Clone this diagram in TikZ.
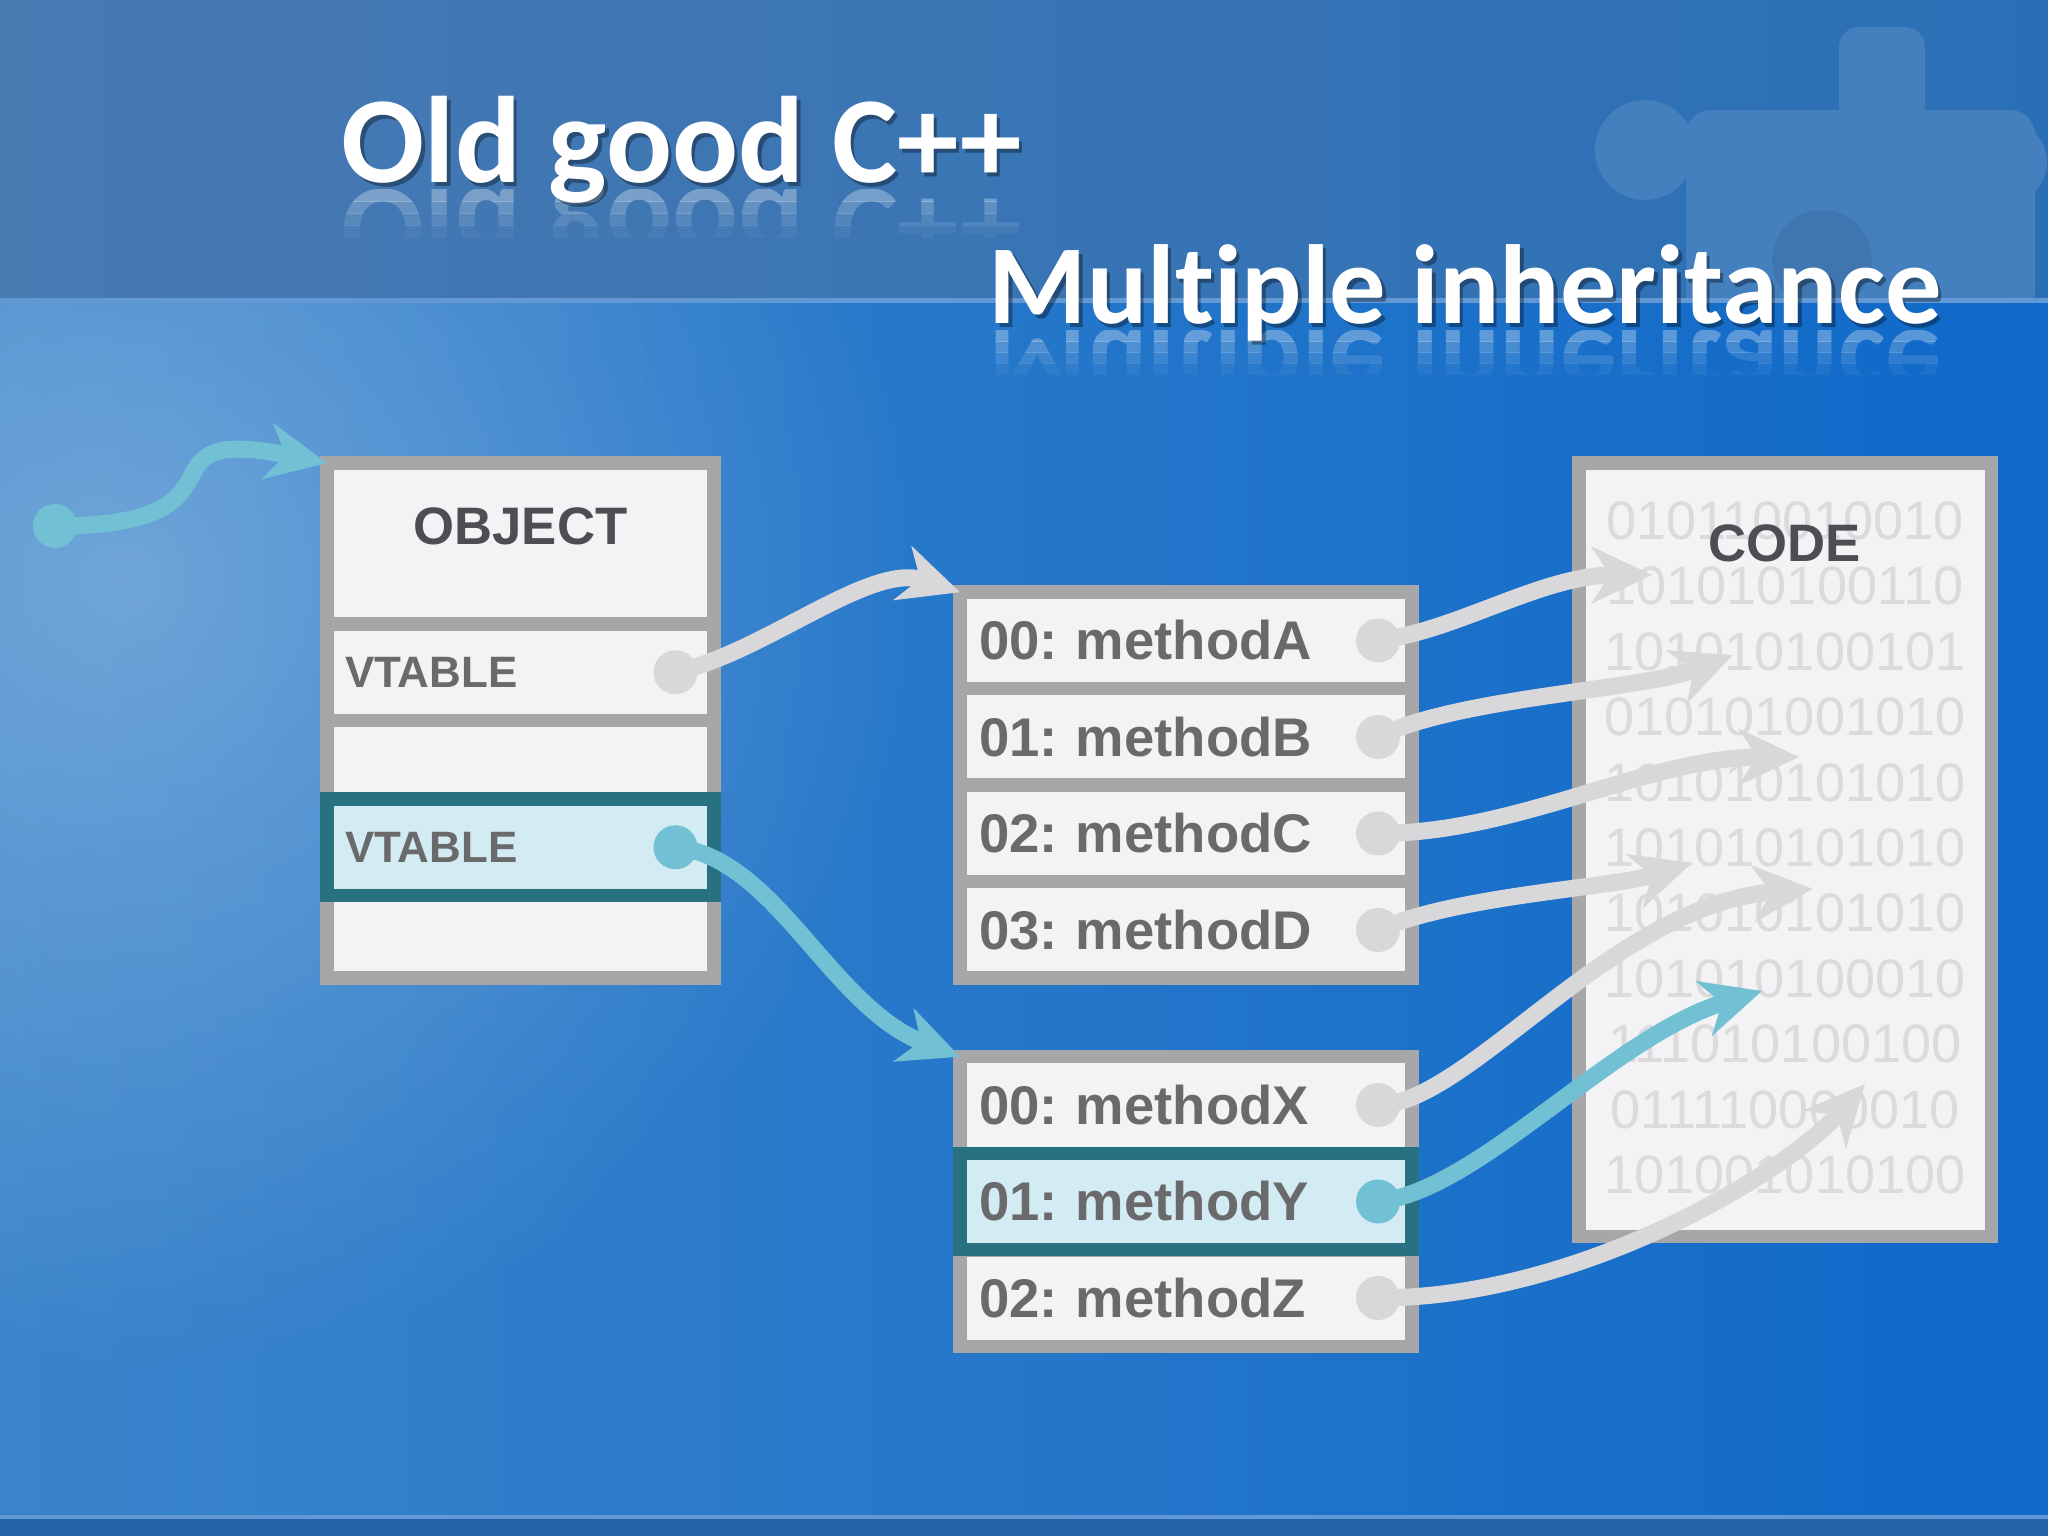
\documentclass[tikz,border=0pt]{standalone}
\usepackage{fontspec}
\setmainfont{Liberation Sans}
\newfontfamily\titlefont[Ligatures=NoCommon]{Carlito}
\usepackage{tikz}
\usetikzlibrary{positioning,arrows.meta,fadings}
\frenchspacing

\definecolor{bandleft}{RGB}{72,122,178}
\definecolor{bandright}{RGB}{42,111,182}
\definecolor{bandline}{RGB}{98,152,212}
\definecolor{lowleft}{RGB}{58,132,202}
\definecolor{lowright}{RGB}{15,105,201}
\definecolor{footblue}{RGB}{36,98,170}
\definecolor{puzzle}{RGB}{68,127,190}
\definecolor{framegray}{RGB}{167,167,169}
\definecolor{cellfill}{RGB}{243,243,245}
\definecolor{hifill}{RGB}{211,235,242}
\definecolor{tealframe}{RGB}{39,113,128}
\definecolor{rowtext}{RGB}{106,106,108}
\definecolor{headtext}{RGB}{78,78,82}
\definecolor{linkgray}{RGB}{216,216,218}
\definecolor{linkcyan}{RGB}{114,192,212}
\definecolor{bitgray}{RGB}{219,219,222}

\tikzfading[name=glow, inner color=transparent!72, outer color=transparent!100]

\begin{document}
\begin{tikzpicture}[
    cell/.style={draw=framegray, line width=0.135cm, fill=cellfill, outer sep=0pt,
      inner xsep=0.18cm, inner ysep=0pt, text width=3.51cm, align=left,
      minimum height=0.965cm, text height=0.31cm, text depth=0pt, text=rowtext,
      font=\fontsize{12.5}{15}\selectfont\bfseries},
    hicell/.style={cell, draw=tealframe, fill=hifill},
    meth/.style={cell, inner xsep=0.19cm, text width=4.14cm, text height=0.38cm,
      font=\fontsize{15.5}{18}\selectfont\bfseries},
    himeth/.style={meth, draw=tealframe, fill=hifill},
    ptr/.style={circle, fill=linkgray, minimum size=0.44cm, inner sep=0pt},
    hiptr/.style={ptr, fill=linkcyan},
    link/.style={draw=linkgray, line width=0.17cm,
      -{Stealth[length=0.6cm,width=0.56cm,inset=0.18cm]}},
    hilink/.style={link, draw=linkcyan},
    bits/.style={text=bitgray, font=\fontsize{15.4}{18}\selectfont, inner sep=0pt,
      text height=0.39cm, text depth=0pt},
    ttl/.style={text=white, inner sep=0pt, anchor=base west},
    bigttl/.style={ttl, font=\titlefont\bfseries\fontsize{35}{40}\selectfont},
    subttl/.style={ttl, font=\titlefont\bfseries\fontsize{32}{38}\selectfont},
  ]
  \useasboundingbox (0,0) rectangle (20.48,-15.36);

  % background
  \shade[left color=bandleft, right color=bandright] (0,0) rectangle (20.48,-3.0);
  \fill[puzzle, rounded corners=0.25cm] (16.86,-1.10) rectangle (20.35,-3.2);
  \fill[puzzle] (16.45,-1.5) circle (0.5) (20.05,-1.62) circle (0.42)
    [rounded corners=0.2cm] (18.39,-0.27) rectangle (19.25,-1.3);
  \fill[black, opacity=0.07] (18.22,-2.6) circle (0.5);
  \shade[left color=lowleft, right color=lowright] (0,-3.0) rectangle (20.48,-15.17);
  \begin{scope}
    \clip (0,-3.0) rectangle (20.48,-15.17);
    \fill[white, path fading=glow] (1.2,-5.8) circle (8);
  \end{scope}
  \fill[bandline] (0,-2.98) rectangle (20.48,-3.03);
  \fill[footblue] (0,-15.17) rectangle (20.48,-15.36);
  \fill[bandline] (0,-15.15) rectangle (20.48,-15.19);

  % titles
  \foreach \k/\op in {0/0.30,1/0.20,2/0.12,3/0.05}{
    \begin{scope}
      \clip (3.3,{-1.90-0.12*\k}) rectangle (10.5,{-2.02-0.12*\k});
      \begin{scope}[shift={(3.41,-1.90)}, yscale=-1]
        \node[bigttl, transform shape, opacity=\op] at (0,0) {Old good C++};
      \end{scope}
    \end{scope}
    \begin{scope}
      \clip (9.8,{-3.31-0.11*\k}) rectangle (19.6,{-3.42-0.11*\k});
      \begin{scope}[shift={(9.88,-3.31)}, yscale=-1]
        \node[subttl, transform shape, opacity=\op] at (0,0) {Multiple inheritance};
      \end{scope}
    \end{scope}
  }
  \node[bigttl, text=black, opacity=0.35] at (3.445,-1.865) {Old good C++};
  \node[bigttl] (oldgood) at (3.41,-1.83) {Old good C++};
  \node[subttl, text=black, opacity=0.35] at (9.915,-3.275) {Multiple inheritance};
  \node[subttl] (multi) at (9.88,-3.24) {Multiple inheritance};

  % object
  \node[cell, align=center, minimum height=1.61cm, text=headtext, text height=0.4cm,
    text depth=0.39cm, font=\fontsize{15}{18}\selectfont\bfseries] (obj) at (5.205,-5.435) {OBJECT};
  \node[cell, below=0pt of obj] (vtA) {VTABLE};
  \node[cell, below=0pt of vtA, minimum height=0.785cm] (gapA) {};
  \node[hicell, below=0pt of gapA] (vtB) {VTABLE};
  \node[cell, below=0pt of vtB, minimum height=0.825cm] (gapB) {};
  \draw[tealframe, line width=0.135cm] (vtB.south west) rectangle (vtB.north east);
  \node[ptr] (vtAptr) at ([xshift=-0.385cm]vtA.east) {};
  \node[hiptr] (vtBptr) at ([xshift=-0.385cm]vtB.east) {};

  % vtables
  \node[meth] (mA) at (11.86,-6.405) {00: methodA};
  \node[meth, below=0pt of mA] (mB) {01: methodB};
  \node[meth, below=0pt of mB] (mC) {02: methodC};
  \node[meth, below=0pt of mC] (mD) {03: methodD};
  \node[meth, below=0.785cm of mD] (mX) {00: methodX};
  \node[himeth, below=0pt of mX] (mY) {01: methodY};
  \node[meth, below=0pt of mY] (mZ) {02: methodZ};
  \draw[tealframe, line width=0.135cm] (mY.south west) rectangle (mY.north east);
  \foreach \m in {A,B,C,D,X,Z}
    \node[ptr] (m\m ptr) at ([xshift=-0.34cm]m\m.east) {};
  \node[hiptr] (mYptr) at ([xshift=-0.34cm]mY.east) {};

  % code
  \node[draw=framegray, line width=0.135cm, fill=cellfill, outer sep=0pt,
    minimum width=4.125cm, minimum height=7.735cm] (code) at (17.853,-8.4975) {};
  \foreach \row [count=\i from 0] in {010110010010,101010100110,101010100101,
      010101001010,101010101010,101010101010,101010101010,101010100010,
      111010100100,011110000010,101001010100}
    \node[bits] (bits\i) at (17.85,{-5.20-0.654*\i}) {\row};

  \coordinate (tA) at (16.52,-5.75);
  \coordinate (tB) at (17.33,-6.55);
  \coordinate (tC) at (17.99,-7.57);
  \coordinate (tD) at (16.92,-8.63);
  \coordinate (tX) at (18.13,-8.89);
  \coordinate (tY) at (17.62,-9.91);
  \coordinate (tZ) at (18.65,-10.84);

  % pointers
  \node[hiptr] (entry) at (0.55,-5.26) {};
  \draw[hilink] (entry.center) .. controls +(2.1,0) and +(-2.0,0.4) .. (obj.north west);
  \draw[link] (vtAptr.center) .. controls +(0.9,0.2) and +(-0.9,0.3) .. (mA.north west);
  \draw[hilink] (vtBptr.center) .. controls +(1.0,-0.1) and +(-1.3,0.5) .. (mX.north west);
  \draw[link] (mAptr.center) .. controls +(0.8,0.1) and +(-1.1,0) .. (tA);
  \draw[link] (mBptr.center) .. controls +(0.8,0.4) and +(-0.9,-0.35) .. (tB);
  \draw[link] (mCptr.center) .. controls +(1.4,0) and +(-1.5,0) .. (tC);
  \draw[link] (mDptr.center) .. controls +(0.8,0.35) and +(-0.8,-0.25) .. (tD);
  \draw[link] (mXptr.center) .. controls +(0.9,0) and +(-2.0,-0.15) .. (tX);
  \draw[link] (mZptr.center) .. controls +(2.0,0) and +(-0.8,-0.9) .. (tZ);
  \draw[hilink] (mYptr.center) .. controls +(1.0,0.1) and +(-1.5,-0.45) .. (tY);

  \node[text=headtext, inner sep=0pt, font=\fontsize{15}{18}\selectfont\bfseries] (codelbl) at (17.85,-5.43) {CODE};
\end{tikzpicture}
\end{document}
